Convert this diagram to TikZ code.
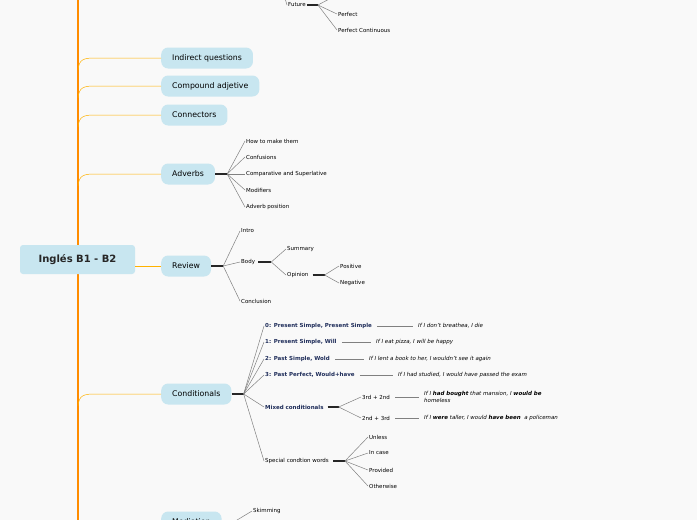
\documentclass[tikz,border=0pt]{standalone}
\usepackage{fontspec}
\setmainfont{DejaVu Sans}
\definecolor{nodeblue}{HTML}{C8E6F0}
\definecolor{navy}{HTML}{1F2D5A}
\begin{document}
\begin{tikzpicture}[x=1pt,y=-1pt,
  main/.style={fill=nodeblue,rounded corners=7pt,minimum height=21pt,inner xsep=11pt,font=\fontsize{7.8}{9}\selectfont,anchor=west},
  leaf/.style={font=\fontsize{5.5}{6.5}\selectfont,anchor=west,inner sep=1pt},
  bleaf/.style={leaf,font=\fontsize{5.5}{6.5}\selectfont\bfseries,text=navy},
  ex/.style={leaf,font=\fontsize{5.5}{6.5}\selectfont\itshape},
  trunk/.style={draw=orange!90!yellow,line width=2.6pt},
  br/.style={draw=orange!60!yellow,line width=0.5pt},
  hub/.style={draw=black!85,line width=1.1pt},
  fan/.style={draw=gray,line width=0.5pt},
  exl/.style={draw=gray,line width=0.6pt}]
\useasboundingbox (0,0) rectangle (697,520);
\fill[gray!5] (0,0) rectangle (697,520);
\draw[trunk] (78,-5) coordinate (ttop) -- (78,525) coordinate (tbot);
\node[fill=nodeblue,rounded corners=3pt,minimum width=115pt,minimum height=29pt,font=\fontsize{10}{12}\selectfont\bfseries,text=black!85] (root) at (77.5,259.5) {Inglés B1 - B2};
% main nodes
\node[main] (iq) at (161,58) {Indirect questions};
\node[main] (ca) at (161,86) {Compound adjetive};
\node[main] (cn) at (161,115) {Connectors};
\node[main] (ad) at (161,174) {Adverbs};
\node[main] (rv) at (161,266) {Review};
\node[main] (co) at (161,394) {Conditionals};
\node[main] (me) at (161,522) {Mediation};
\foreach \n/\y in {iq/58,ca/86,cn/115,ad/174,co/394,me/522}{
  \draw[br] (78,\y+12) .. controls (79,\y+1) and (84,\y) .. (95,\y) -- (\n.west);
}
\draw[br] (root.east |- rv.west) -- (rv.west);
% Future
\node[leaf] (fu) at (287,5) {Future};
\draw[fan] (284,-5) -- (fu.west);
\draw[hub] (fu.east) -- ++(11,0) coordinate (hf);
\node[leaf] (pf) at (337,14) {Perfect};
\node[leaf] (pfc) at (337,30) {Perfect Continuous};
\draw[fan] (hf) -- (335,-4);
\foreach \n in {pf,pfc} \draw[fan] (hf) -- (\n.west);
% Adverbs
\draw[hub] (ad.east) -- ++(12,0) coordinate (ha);
\foreach \n/\y/\t in {a1/141/How to make them,a2/157/Confusions,a3/174/Comparative and Superlative,a4/190/Modifiers,a5/207/Adverb position}{
  \node[leaf] (\n) at (245,\y) {\t};
  \draw[fan] (ha) -- (\n.west);
}
% Review
\draw[hub] (rv.east) -- ++(12,0) coordinate (hr);
\node[leaf] (r1) at (240,231) {Intro};
\node[leaf] (r2) at (240,262) {Body};
\node[leaf] (r3) at (240,301) {Conclusion};
\foreach \n in {r1,r2,r3} \draw[fan] (hr) -- (\n.west);
\draw[hub] (r2.east) ++(2,0) -- ++(13,0) coordinate (hb);
\node[leaf] (b1) at (286,249) {Summary};
\node[leaf] (b2) at (286,275) {Opinion};
\foreach \n in {b1,b2} \draw[fan] (hb) -- (\n.west);
\draw[hub] (b2.east) ++(3,0) -- ++(12,0) coordinate (ho);
\node[leaf] (o1) at (339,266) {Positive};
\node[leaf] (o2) at (339,283) {Negative};
\foreach \n in {o1,o2} \draw[fan] (ho) -- (\n.west);
% Conditionals
\draw[hub] (co.east) -- ++(12,0) coordinate (hc);
\node[bleaf] (c0) at (264,326) {0: Present Simple, Present Simple};
\node[bleaf] (c1) at (264,342) {1: Present Simple, Will};
\node[bleaf] (c2) at (264,359) {2: Past Simple, Wold};
\node[bleaf] (c3) at (264,375) {3: Past Perfect, Would+have};
\node[bleaf] (cm) at (264,407) {Mixed conditionals};
\node[leaf] (cs) at (264,461) {Special condtion words};
\foreach \n in {c0,c1,c2,c3,cm,cs} \draw[fan] (hc) -- (\n.west);
\node[ex] (e0) at (417,326) {If I don't breathea, I die};
\node[ex] (e1) at (375,342) {If I eat pizza, I will be happy};
\node[ex] (e2) at (368,359) {If I lent a book to her, I wouldn't see it again};
\node[ex] (e3) at (397,375) {If I had studied, I would have passed the exam};
\foreach \a/\b in {c0/e0,c1/e1,c2/e2,c3/e3} \draw[exl] ([xshift=4pt]\a.east) -- ([xshift=-4pt]\b.west);
\draw[hub] (cm.east) ++(3,0) -- ++(11,0) coordinate (hm);
\node[leaf] (m1) at (361,397) {3rd + 2nd};
\node[leaf] (m2) at (361,418) {2nd + 3rd};
\foreach \n in {m1,m2} \draw[fan] (hm) -- (\n.west);
\node[ex,align=left] (em1) at (423,397) {If I \textbf{had bought} that mansion, I \textbf{would be}\\homeless};
\node[ex] (em2) at (423,418) {If I \textbf{were} taller, I would \textbf{have been}~ a policeman};
\draw[exl] ([xshift=4pt]m1.east) -- ([xshift=-4pt]em1.west);
\draw[exl] ([xshift=4pt]m2.east) -- ([xshift=-4pt]em2.west);
\draw[hub] (cs.east) ++(3,0) -- ++(12,0) coordinate (hs);
\foreach \n/\y/\t in {s1/437/Unless,s2/453/In case,s3/470/Provided,s4/486/Otherwise}{
  \node[leaf] (\n) at (368,\y) {\t};
  \draw[fan] (hs) -- (\n.west);
}
% Mediation
\draw[hub] (me.east) -- ++(12,0) coordinate (hme);
\node[leaf] (sk) at (252,511) {Skimming};
\draw[fan] (hme) -- (sk.west);
\end{tikzpicture}
\end{document}
